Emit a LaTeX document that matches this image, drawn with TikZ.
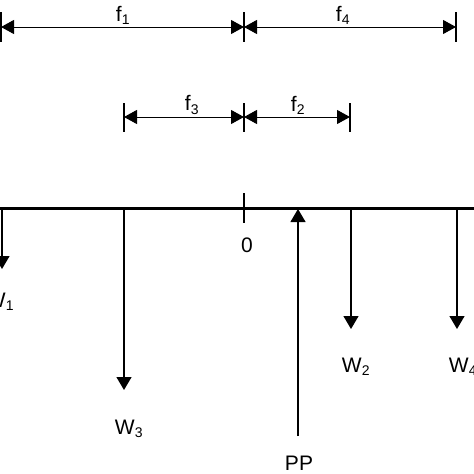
\documentclass[tikz,border=0pt]{standalone}
\usepackage{fontspec}
\setmainfont{Liberation Sans}
\usetikzlibrary{arrows.meta}
\newcommand{\sub}[1]{$_{\mbox{\fontsize{14}{14}\selectfont #1}}$}
\begin{document}
\begin{tikzpicture}[x=1pt,y=-1pt,
  beam/.style={line width=3pt},
  dimline/.style={line width=1pt,{Triangle[length=13pt,width=14pt]}-{Triangle[length=13pt,width=14pt]}},
  tickline/.style={line width=1.1pt},
  force/.style={line width=1.2pt,-{Triangle[length=13pt,width=15pt]}},
  lbl/.style={font=\fontsize{21}{23}\selectfont,inner sep=0pt}]
\useasboundingbox (0,0) rectangle (474,474);
% top dimension row
\coordinate (t0a) at (1,12); \coordinate (t0b) at (1,42);
\coordinate (t1a) at (244,12); \coordinate (t1b) at (244,42);
\coordinate (t2a) at (456,12); \coordinate (t2b) at (456,42);
\draw[tickline] (t0a) -- (t0b);
\draw[tickline] (t1a) -- (t1b);
\draw[tickline] (t2a) -- (t2b);
\coordinate (f1s) at (1,27); \coordinate (f1e) at (244,27); \coordinate (f4e) at (456,27);
\draw[dimline] (f1s) -- (f1e);
\draw[dimline] (f1e) -- (f4e);
\node[lbl] (f1) at (123,15) {f\sub{1}};
\node[lbl] (f4) at (343,15) {f\sub{4}};
% second dimension row
\coordinate (s0a) at (124,103); \coordinate (s0b) at (124,132);
\coordinate (s1a) at (244,103); \coordinate (s1b) at (244,132);
\coordinate (s2a) at (350,103); \coordinate (s2b) at (350,132);
\draw[tickline] (s0a) -- (s0b);
\draw[tickline] (s1a) -- (s1b);
\draw[tickline] (s2a) -- (s2b);
\coordinate (f3s) at (124,117); \coordinate (f3e) at (244,117); \coordinate (f2e) at (350,117);
\draw[dimline] (f3s) -- (f3e);
\draw[dimline] (f3e) -- (f2e);
\node[lbl] (f3) at (192,105) {f\sub{3}};
\node[lbl] (f2) at (298,105) {f\sub{2}};
% beam
\coordinate (bl) at (0,208); \coordinate (br) at (474,208);
\draw[beam] (bl) -- (br);
\coordinate (oa) at (244,193); \coordinate (ob) at (244,223);
\draw[tickline] (oa) -- (ob);
\node[lbl] (zero) at (247,245) {0};
% forces
\coordinate (w1a) at (2,209); \coordinate (w1b) at (2,269);
\draw[force] (w1a) -- (w1b);
\node[lbl] (W1) at (0,302) {W\sub{1}};
\coordinate (w3a) at (124,209); \coordinate (w3b) at (124,390);
\draw[force] (w3a) -- (w3b);
\node[lbl] (W3) at (129,429) {W\sub{3}};
\coordinate (ppa) at (298,436); \coordinate (ppb) at (298,209);
\draw[force] (ppa) -- (ppb);
\node[lbl] (PP) at (299,463) {PP};
\coordinate (w2a) at (351,209); \coordinate (w2b) at (351,329);
\draw[force] (w2a) -- (w2b);
\node[lbl] (W2) at (356,367) {W\sub{2}};
\coordinate (w4a) at (457,209); \coordinate (w4b) at (457,329);
\draw[force] (w4a) -- (w4b);
\node[lbl] (W4) at (463,367) {W\sub{4}};
\end{tikzpicture}
\end{document}
